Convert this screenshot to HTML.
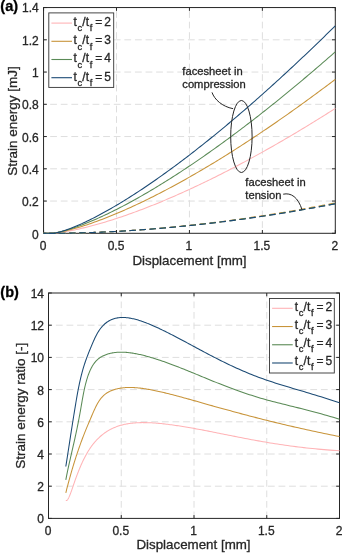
<!DOCTYPE html>
<html><head><meta charset="utf-8"><title>Strain energy</title>
<style>html,body{margin:0;padding:0;background:#fff}svg{display:block}</style></head>
<body>
<svg width="342" height="553" viewBox="0 0 342 553" font-family='"Liberation Sans", Arial, Helvetica, sans-serif'>
<rect width="342" height="553" fill="#fff"/>
<style>text{stroke:#262626;stroke-width:0.3px;paint-order:stroke}</style>
<path d="M116.49,7.55V233.30M189.43,7.55V233.30M262.36,7.55V233.30" fill="none" stroke="#dedede" stroke-width="1" stroke-dasharray="6.7 3.8" stroke-dashoffset="6.85"/>
<path d="M43.55,201.05H335.30M43.55,168.80H335.30M43.55,136.55H335.30M43.55,104.30H335.30M43.55,72.05H335.30M43.55,39.80H335.30" fill="none" stroke="#dedede" stroke-width="1" stroke-dasharray="6.8 3.8" stroke-dashoffset="4.0"/>
<path d="M43.55,233.30v-3.3M43.55,7.55v3.3M116.49,233.30v-3.3M116.49,7.55v3.3M189.43,233.30v-3.3M189.43,7.55v3.3M262.36,233.30v-3.3M262.36,7.55v3.3M335.30,233.30v-3.3M335.30,7.55v3.3M43.55,233.30h3.3M335.30,233.30h-3.3M43.55,201.05h3.3M335.30,201.05h-3.3M43.55,168.80h3.3M335.30,168.80h-3.3M43.55,136.55h3.3M335.30,136.55h-3.3M43.55,104.30h3.3M335.30,104.30h-3.3M43.55,72.05h3.3M335.30,72.05h-3.3M43.55,39.80h3.3M335.30,39.80h-3.3M43.55,7.55h3.3M335.30,7.55h-3.3" fill="none" stroke="#262626" stroke-width="1"/>
<rect x="43.55" y="7.55" width="291.75" height="225.75" fill="none" stroke="#262626" stroke-width="1"/>
<clipPath id="ca"><rect x="42.949999999999996" y="6.95" width="292.95" height="226.95"/></clipPath>
<g clip-path="url(#ca)" fill="none" stroke-width="1.05" stroke-linejoin="round">
<path d="M43.55,233.30 L45.37,233.30 L47.20,233.30 L49.02,233.30 L50.84,233.30 L52.67,233.21 L54.49,233.07 L56.31,232.89 L58.14,232.68 L59.96,232.45 L61.78,232.19 L63.61,231.92 L65.43,231.62 L67.25,231.31 L69.08,230.98 L70.90,230.64 L72.72,230.28 L74.55,229.91 L76.37,229.53 L78.20,229.13 L80.02,228.73 L81.84,228.31 L83.67,227.87 L85.49,227.43 L87.31,226.98 L89.14,226.52 L90.96,226.04 L92.78,225.56 L94.61,225.07 L96.43,224.56 L98.25,224.05 L100.08,223.53 L101.90,223.00 L103.72,222.46 L105.55,221.92 L107.37,221.36 L109.19,220.80 L111.02,220.23 L112.84,219.65 L114.66,219.06 L116.49,218.47 L118.31,217.87 L120.13,217.26 L121.96,216.64 L123.78,216.02 L125.60,215.39 L127.43,214.75 L129.25,214.10 L131.08,213.45 L132.90,212.79 L134.72,212.13 L136.55,211.46 L138.37,210.78 L140.19,210.09 L142.02,209.40 L143.84,208.70 L145.66,208.00 L147.49,207.29 L149.31,206.57 L151.13,205.85 L152.96,205.12 L154.78,204.39 L156.60,203.65 L158.43,202.91 L160.25,202.15 L162.07,201.40 L163.90,200.64 L165.72,199.87 L167.54,199.09 L169.37,198.31 L171.19,197.53 L173.01,196.74 L174.84,195.94 L176.66,195.14 L178.48,194.34 L180.31,193.52 L182.13,192.71 L183.95,191.89 L185.78,191.06 L187.60,190.23 L189.43,189.39 L191.25,188.55 L193.07,187.70 L194.90,186.85 L196.72,185.99 L198.54,185.13 L200.37,184.26 L202.19,183.39 L204.01,182.52 L205.84,181.64 L207.66,180.75 L209.48,179.86 L211.31,178.97 L213.13,178.07 L214.95,177.16 L216.78,176.25 L218.60,175.34 L220.42,174.42 L222.25,173.50 L224.07,172.57 L225.89,171.64 L227.72,170.71 L229.54,169.77 L231.36,168.82 L233.19,167.87 L235.01,166.92 L236.83,165.96 L238.66,165.00 L240.48,164.03 L242.30,163.06 L244.13,162.09 L245.95,161.11 L247.78,160.13 L249.60,159.14 L251.42,158.15 L253.25,157.16 L255.07,156.16 L256.89,155.15 L258.72,154.15 L260.54,153.14 L262.36,152.12 L264.19,151.10 L266.01,150.08 L267.83,149.05 L269.66,148.02 L271.48,146.99 L273.30,145.95 L275.13,144.90 L276.95,143.86 L278.77,142.81 L280.60,141.75 L282.42,140.70 L284.24,139.63 L286.07,138.57 L287.89,137.50 L289.71,136.43 L291.54,135.35 L293.36,134.27 L295.18,133.18 L297.01,132.10 L298.83,131.01 L300.65,129.91 L302.48,128.81 L304.30,127.71 L306.12,126.60 L307.95,125.49 L309.77,124.38 L311.60,123.26 L313.42,122.14 L315.24,121.02 L317.07,119.89 L318.89,118.76 L320.71,117.63 L322.54,116.49 L324.36,115.35 L326.18,114.20 L328.01,113.05 L329.83,111.90 L331.65,110.75 L333.48,109.59 L335.30,108.43" stroke="#ffb3b6"/>
<path d="M43.55,233.30 L45.37,233.30 L47.20,233.30 L49.02,233.30 L50.84,233.30 L52.67,233.30 L54.49,233.30 L56.31,233.29 L58.14,233.28 L59.96,233.26 L61.78,233.24 L63.61,233.22 L65.43,233.20 L67.25,233.17 L69.08,233.14 L70.90,233.11 L72.72,233.07 L74.55,233.03 L76.37,232.99 L78.20,232.94 L80.02,232.89 L81.84,232.84 L83.67,232.79 L85.49,232.73 L87.31,232.68 L89.14,232.61 L90.96,232.55 L92.78,232.48 L94.61,232.41 L96.43,232.34 L98.25,232.27 L100.08,232.19 L101.90,232.11 L103.72,232.03 L105.55,231.94 L107.37,231.86 L109.19,231.77 L111.02,231.68 L112.84,231.58 L114.66,231.48 L116.49,231.38 L118.31,231.28 L120.13,231.18 L121.96,231.07 L123.78,230.96 L125.60,230.85 L127.43,230.74 L129.25,230.62 L131.08,230.50 L132.90,230.38 L134.72,230.26 L136.55,230.13 L138.37,230.00 L140.19,229.87 L142.02,229.74 L143.84,229.61 L145.66,229.47 L147.49,229.33 L149.31,229.19 L151.13,229.04 L152.96,228.90 L154.78,228.75 L156.60,228.60 L158.43,228.45 L160.25,228.29 L162.07,228.13 L163.90,227.97 L165.72,227.81 L167.54,227.65 L169.37,227.48 L171.19,227.31 L173.01,227.14 L174.84,226.97 L176.66,226.79 L178.48,226.61 L180.31,226.43 L182.13,226.25 L183.95,226.07 L185.78,225.88 L187.60,225.69 L189.43,225.50 L191.25,225.31 L193.07,225.11 L194.90,224.91 L196.72,224.72 L198.54,224.51 L200.37,224.31 L202.19,224.10 L204.01,223.90 L205.84,223.69 L207.66,223.47 L209.48,223.26 L211.31,223.04 L213.13,222.82 L214.95,222.60 L216.78,222.38 L218.60,222.16 L220.42,221.93 L222.25,221.70 L224.07,221.47 L225.89,221.23 L227.72,221.00 L229.54,220.76 L231.36,220.52 L233.19,220.28 L235.01,220.04 L236.83,219.79 L238.66,219.54 L240.48,219.29 L242.30,219.04 L244.13,218.79 L245.95,218.53 L247.78,218.27 L249.60,218.01 L251.42,217.75 L253.25,217.48 L255.07,217.22 L256.89,216.95 L258.72,216.68 L260.54,216.40 L262.36,216.13 L264.19,215.85 L266.01,215.57 L267.83,215.29 L269.66,215.01 L271.48,214.73 L273.30,214.44 L275.13,214.15 L276.95,213.86 L278.77,213.57 L280.60,213.27 L282.42,212.97 L284.24,212.68 L286.07,212.37 L287.89,212.07 L289.71,211.77 L291.54,211.46 L293.36,211.15 L295.18,210.84 L297.01,210.53 L298.83,210.21 L300.65,209.90 L302.48,209.58 L304.30,209.26 L306.12,208.93 L307.95,208.61 L309.77,208.28 L311.60,207.95 L313.42,207.62 L315.24,207.29 L317.07,206.95 L318.89,206.62 L320.71,206.28 L322.54,205.94 L324.36,205.60 L326.18,205.25 L328.01,204.90 L329.83,204.56 L331.65,204.21 L333.48,203.85 L335.30,203.50" stroke="#ffb3b6" stroke-width="1.1" stroke-dasharray="6.45 3.6" stroke-dashoffset="4.5"/>
<path d="M43.55,233.30 L45.37,233.30 L47.20,233.30 L49.02,233.30 L50.84,233.30 L52.67,233.16 L54.49,232.94 L56.31,232.68 L58.14,232.37 L59.96,232.04 L61.78,231.68 L63.61,231.29 L65.43,230.88 L67.25,230.45 L69.08,230.00 L70.90,229.53 L72.72,229.05 L74.55,228.55 L76.37,228.03 L78.20,227.50 L80.02,226.95 L81.84,226.39 L83.67,225.81 L85.49,225.23 L87.31,224.63 L89.14,224.01 L90.96,223.39 L92.78,222.75 L94.61,222.11 L96.43,221.45 L98.25,220.78 L100.08,220.10 L101.90,219.42 L103.72,218.72 L105.55,218.01 L107.37,217.29 L109.19,216.56 L111.02,215.83 L112.84,215.08 L114.66,214.33 L116.49,213.57 L118.31,212.79 L120.13,212.01 L121.96,211.23 L123.78,210.43 L125.60,209.62 L127.43,208.81 L129.25,207.99 L131.08,207.16 L132.90,206.33 L134.72,205.49 L136.55,204.64 L138.37,203.78 L140.19,202.91 L142.02,202.04 L143.84,201.16 L145.66,200.28 L147.49,199.38 L149.31,198.48 L151.13,197.58 L152.96,196.66 L154.78,195.74 L156.60,194.82 L158.43,193.89 L160.25,192.95 L162.07,192.00 L163.90,191.05 L165.72,190.09 L167.54,189.13 L169.37,188.16 L171.19,187.18 L173.01,186.20 L174.84,185.21 L176.66,184.22 L178.48,183.22 L180.31,182.22 L182.13,181.20 L183.95,180.19 L185.78,179.17 L187.60,178.14 L189.43,177.10 L191.25,176.07 L193.07,175.02 L194.90,173.97 L196.72,172.92 L198.54,171.86 L200.37,170.79 L202.19,169.72 L204.01,168.64 L205.84,167.56 L207.66,166.48 L209.48,165.39 L211.31,164.29 L213.13,163.19 L214.95,162.08 L216.78,160.97 L218.60,159.85 L220.42,158.73 L222.25,157.61 L224.07,156.48 L225.89,155.34 L227.72,154.20 L229.54,153.05 L231.36,151.90 L233.19,150.75 L235.01,149.59 L236.83,148.43 L238.66,147.26 L240.48,146.09 L242.30,144.91 L244.13,143.73 L245.95,142.54 L247.78,141.35 L249.60,140.15 L251.42,138.95 L253.25,137.75 L255.07,136.54 L256.89,135.33 L258.72,134.11 L260.54,132.89 L262.36,131.66 L264.19,130.43 L266.01,129.20 L267.83,127.96 L269.66,126.72 L271.48,125.47 L273.30,124.22 L275.13,122.96 L276.95,121.70 L278.77,120.44 L280.60,119.17 L282.42,117.90 L284.24,116.62 L286.07,115.34 L287.89,114.06 L289.71,112.77 L291.54,111.48 L293.36,110.19 L295.18,108.89 L297.01,107.58 L298.83,106.28 L300.65,104.96 L302.48,103.65 L304.30,102.33 L306.12,101.01 L307.95,99.68 L309.77,98.35 L311.60,97.02 L313.42,95.68 L315.24,94.34 L317.07,92.99 L318.89,91.64 L320.71,90.29 L322.54,88.93 L324.36,87.57 L326.18,86.21 L328.01,84.84 L329.83,83.47 L331.65,82.10 L333.48,80.72 L335.30,79.34" stroke="#c8943a"/>
<path d="M43.55,233.30 L45.37,233.30 L47.20,233.30 L49.02,233.30 L50.84,233.30 L52.67,233.30 L54.49,233.30 L56.31,233.29 L58.14,233.28 L59.96,233.26 L61.78,233.24 L63.61,233.22 L65.43,233.20 L67.25,233.17 L69.08,233.14 L70.90,233.10 L72.72,233.06 L74.55,233.02 L76.37,232.98 L78.20,232.94 L80.02,232.89 L81.84,232.83 L83.67,232.78 L85.49,232.72 L87.31,232.66 L89.14,232.60 L90.96,232.53 L92.78,232.47 L94.61,232.40 L96.43,232.32 L98.25,232.25 L100.08,232.17 L101.90,232.09 L103.72,232.00 L105.55,231.92 L107.37,231.83 L109.19,231.73 L111.02,231.64 L112.84,231.54 L114.66,231.44 L116.49,231.34 L118.31,231.24 L120.13,231.13 L121.96,231.02 L123.78,230.91 L125.60,230.80 L127.43,230.68 L129.25,230.56 L131.08,230.44 L132.90,230.32 L134.72,230.19 L136.55,230.06 L138.37,229.93 L140.19,229.80 L142.02,229.66 L143.84,229.53 L145.66,229.39 L147.49,229.24 L149.31,229.10 L151.13,228.95 L152.96,228.80 L154.78,228.65 L156.60,228.50 L158.43,228.34 L160.25,228.18 L162.07,228.02 L163.90,227.86 L165.72,227.69 L167.54,227.52 L169.37,227.35 L171.19,227.18 L173.01,227.00 L174.84,226.83 L176.66,226.65 L178.48,226.47 L180.31,226.28 L182.13,226.10 L183.95,225.91 L185.78,225.72 L187.60,225.53 L189.43,225.33 L191.25,225.13 L193.07,224.93 L194.90,224.73 L196.72,224.53 L198.54,224.32 L200.37,224.11 L202.19,223.90 L204.01,223.69 L205.84,223.48 L207.66,223.26 L209.48,223.04 L211.31,222.82 L213.13,222.60 L214.95,222.37 L216.78,222.14 L218.60,221.91 L220.42,221.68 L222.25,221.45 L224.07,221.21 L225.89,220.97 L227.72,220.73 L229.54,220.49 L231.36,220.24 L233.19,220.00 L235.01,219.75 L236.83,219.50 L238.66,219.24 L240.48,218.99 L242.30,218.73 L244.13,218.47 L245.95,218.21 L247.78,217.94 L249.60,217.68 L251.42,217.41 L253.25,217.14 L255.07,216.87 L256.89,216.59 L258.72,216.32 L260.54,216.04 L262.36,215.76 L264.19,215.47 L266.01,215.19 L267.83,214.90 L269.66,214.61 L271.48,214.32 L273.30,214.03 L275.13,213.73 L276.95,213.44 L278.77,213.14 L280.60,212.84 L282.42,212.53 L284.24,212.23 L286.07,211.92 L287.89,211.61 L289.71,211.30 L291.54,210.98 L293.36,210.67 L295.18,210.35 L297.01,210.03 L298.83,209.71 L300.65,209.39 L302.48,209.06 L304.30,208.73 L306.12,208.40 L307.95,208.07 L309.77,207.74 L311.60,207.40 L313.42,207.06 L315.24,206.72 L317.07,206.38 L318.89,206.04 L320.71,205.69 L322.54,205.34 L324.36,204.99 L326.18,204.64 L328.01,204.29 L329.83,203.93 L331.65,203.57 L333.48,203.21 L335.30,202.85" stroke="#c8943a" stroke-width="1.1" stroke-dasharray="6.45 3.6" stroke-dashoffset="4.5"/>
<path d="M43.55,233.30 L45.37,233.30 L47.20,233.30 L49.02,233.30 L50.84,233.30 L52.67,233.21 L54.49,232.97 L56.31,232.65 L58.14,232.28 L59.96,231.87 L61.78,231.42 L63.61,230.95 L65.43,230.44 L67.25,229.91 L69.08,229.36 L70.90,228.79 L72.72,228.19 L74.55,227.57 L76.37,226.94 L78.20,226.29 L80.02,225.62 L81.84,224.94 L83.67,224.23 L85.49,223.52 L87.31,222.79 L89.14,222.04 L90.96,221.29 L92.78,220.51 L94.61,219.73 L96.43,218.93 L98.25,218.12 L100.08,217.30 L101.90,216.47 L103.72,215.63 L105.55,214.77 L107.37,213.91 L109.19,213.03 L111.02,212.14 L112.84,211.24 L114.66,210.34 L116.49,209.42 L118.31,208.49 L120.13,207.55 L121.96,206.61 L123.78,205.65 L125.60,204.69 L127.43,203.71 L129.25,202.73 L131.08,201.74 L132.90,200.74 L134.72,199.73 L136.55,198.72 L138.37,197.69 L140.19,196.66 L142.02,195.62 L143.84,194.57 L145.66,193.52 L147.49,192.45 L149.31,191.38 L151.13,190.30 L152.96,189.21 L154.78,188.12 L156.60,187.02 L158.43,185.91 L160.25,184.80 L162.07,183.67 L163.90,182.54 L165.72,181.41 L167.54,180.26 L169.37,179.11 L171.19,177.96 L173.01,176.79 L174.84,175.62 L176.66,174.45 L178.48,173.27 L180.31,172.08 L182.13,170.88 L183.95,169.68 L185.78,168.47 L187.60,167.26 L189.43,166.04 L191.25,164.81 L193.07,163.58 L194.90,162.34 L196.72,161.09 L198.54,159.84 L200.37,158.59 L202.19,157.33 L204.01,156.06 L205.84,154.79 L207.66,153.51 L209.48,152.22 L211.31,150.93 L213.13,149.64 L214.95,148.34 L216.78,147.03 L218.60,145.72 L220.42,144.40 L222.25,143.08 L224.07,141.75 L225.89,140.42 L227.72,139.08 L229.54,137.73 L231.36,136.39 L233.19,135.03 L235.01,133.67 L236.83,132.31 L238.66,130.94 L240.48,129.56 L242.30,128.19 L244.13,126.80 L245.95,125.41 L247.78,124.02 L249.60,122.62 L251.42,121.22 L253.25,119.81 L255.07,118.39 L256.89,116.98 L258.72,115.55 L260.54,114.13 L262.36,112.69 L264.19,111.26 L266.01,109.81 L267.83,108.37 L269.66,106.92 L271.48,105.46 L273.30,104.00 L275.13,102.54 L276.95,101.07 L278.77,99.60 L280.60,98.12 L282.42,96.64 L284.24,95.15 L286.07,93.66 L287.89,92.16 L289.71,90.67 L291.54,89.16 L293.36,87.65 L295.18,86.14 L297.01,84.62 L298.83,83.10 L300.65,81.58 L302.48,80.05 L304.30,78.52 L306.12,76.98 L307.95,75.44 L309.77,73.89 L311.60,72.34 L313.42,70.79 L315.24,69.23 L317.07,67.67 L318.89,66.10 L320.71,64.53 L322.54,62.96 L324.36,61.38 L326.18,59.80 L328.01,58.21 L329.83,56.62 L331.65,55.03 L333.48,53.43 L335.30,51.83" stroke="#5a8a56"/>
<path d="M43.55,233.30 L45.37,233.30 L47.20,233.30 L49.02,233.30 L50.84,233.30 L52.67,233.30 L54.49,233.30 L56.31,233.29 L58.14,233.28 L59.96,233.26 L61.78,233.24 L63.61,233.22 L65.43,233.20 L67.25,233.17 L69.08,233.14 L70.90,233.11 L72.72,233.07 L74.55,233.03 L76.37,232.99 L78.20,232.94 L80.02,232.90 L81.84,232.85 L83.67,232.79 L85.49,232.74 L87.31,232.68 L89.14,232.62 L90.96,232.55 L92.78,232.49 L94.61,232.42 L96.43,232.35 L98.25,232.27 L100.08,232.20 L101.90,232.12 L103.72,232.04 L105.55,231.95 L107.37,231.86 L109.19,231.78 L111.02,231.68 L112.84,231.59 L114.66,231.49 L116.49,231.39 L118.31,231.29 L120.13,231.19 L121.96,231.08 L123.78,230.97 L125.60,230.86 L127.43,230.75 L129.25,230.63 L131.08,230.52 L132.90,230.40 L134.72,230.27 L136.55,230.15 L138.37,230.02 L140.19,229.89 L142.02,229.76 L143.84,229.63 L145.66,229.49 L147.49,229.35 L149.31,229.21 L151.13,229.07 L152.96,228.92 L154.78,228.77 L156.60,228.62 L158.43,228.47 L160.25,228.31 L162.07,228.16 L163.90,228.00 L165.72,227.84 L167.54,227.67 L169.37,227.51 L171.19,227.34 L173.01,227.17 L174.84,227.00 L176.66,226.82 L178.48,226.65 L180.31,226.47 L182.13,226.29 L183.95,226.10 L185.78,225.92 L187.60,225.73 L189.43,225.54 L191.25,225.35 L193.07,225.15 L194.90,224.96 L196.72,224.76 L198.54,224.56 L200.37,224.35 L202.19,224.15 L204.01,223.94 L205.84,223.73 L207.66,223.52 L209.48,223.31 L211.31,223.09 L213.13,222.88 L214.95,222.66 L216.78,222.43 L218.60,222.21 L220.42,221.98 L222.25,221.76 L224.07,221.53 L225.89,221.29 L227.72,221.06 L229.54,220.82 L231.36,220.58 L233.19,220.34 L235.01,220.10 L236.83,219.86 L238.66,219.61 L240.48,219.36 L242.30,219.11 L244.13,218.86 L245.95,218.60 L247.78,218.35 L249.60,218.09 L251.42,217.82 L253.25,217.56 L255.07,217.30 L256.89,217.03 L258.72,216.76 L260.54,216.49 L262.36,216.22 L264.19,215.94 L266.01,215.66 L267.83,215.38 L269.66,215.10 L271.48,214.82 L273.30,214.53 L275.13,214.25 L276.95,213.96 L278.77,213.66 L280.60,213.37 L282.42,213.08 L284.24,212.78 L286.07,212.48 L287.89,212.18 L289.71,211.87 L291.54,211.57 L293.36,211.26 L295.18,210.95 L297.01,210.64 L298.83,210.33 L300.65,210.01 L302.48,209.69 L304.30,209.37 L306.12,209.05 L307.95,208.73 L309.77,208.40 L311.60,208.08 L313.42,207.75 L315.24,207.42 L317.07,207.08 L318.89,206.75 L320.71,206.41 L322.54,206.07 L324.36,205.73 L326.18,205.39 L328.01,205.05 L329.83,204.70 L331.65,204.35 L333.48,204.00 L335.30,203.65" stroke="#5a8a56" stroke-width="1.1" stroke-dasharray="6.45 3.6" stroke-dashoffset="4.5"/>
<path d="M43.55,233.30 L45.37,233.30 L47.20,233.30 L49.02,233.30 L50.84,233.30 L52.67,233.30 L54.49,233.14 L56.31,232.80 L58.14,232.38 L59.96,231.89 L61.78,231.37 L63.61,230.80 L65.43,230.20 L67.25,229.56 L69.08,228.90 L70.90,228.21 L72.72,227.50 L74.55,226.76 L76.37,226.00 L78.20,225.22 L80.02,224.43 L81.84,223.61 L83.67,222.77 L85.49,221.92 L87.31,221.05 L89.14,220.17 L90.96,219.27 L92.78,218.36 L94.61,217.43 L96.43,216.48 L98.25,215.53 L100.08,214.56 L101.90,213.57 L103.72,212.58 L105.55,211.57 L107.37,210.55 L109.19,209.52 L111.02,208.48 L112.84,207.42 L114.66,206.36 L116.49,205.28 L118.31,204.20 L120.13,203.10 L121.96,201.99 L123.78,200.87 L125.60,199.75 L127.43,198.61 L129.25,197.47 L131.08,196.31 L132.90,195.14 L134.72,193.97 L136.55,192.79 L138.37,191.60 L140.19,190.40 L142.02,189.19 L143.84,187.97 L145.66,186.74 L147.49,185.51 L149.31,184.27 L151.13,183.02 L152.96,181.76 L154.78,180.49 L156.60,179.22 L158.43,177.94 L160.25,176.65 L162.07,175.35 L163.90,174.05 L165.72,172.74 L167.54,171.42 L169.37,170.09 L171.19,168.76 L173.01,167.42 L174.84,166.07 L176.66,164.72 L178.48,163.36 L180.31,161.99 L182.13,160.62 L183.95,159.24 L185.78,157.85 L187.60,156.46 L189.43,155.06 L191.25,153.65 L193.07,152.24 L194.90,150.82 L196.72,149.40 L198.54,147.96 L200.37,146.53 L202.19,145.08 L204.01,143.63 L205.84,142.18 L207.66,140.72 L209.48,139.25 L211.31,137.78 L213.13,136.30 L214.95,134.81 L216.78,133.32 L218.60,131.83 L220.42,130.33 L222.25,128.82 L224.07,127.31 L225.89,125.79 L227.72,124.26 L229.54,122.74 L231.36,121.20 L233.19,119.66 L235.01,118.12 L236.83,116.57 L238.66,115.01 L240.48,113.45 L242.30,111.88 L244.13,110.31 L245.95,108.74 L247.78,107.15 L249.60,105.57 L251.42,103.98 L253.25,102.38 L255.07,100.78 L256.89,99.17 L258.72,97.56 L260.54,95.95 L262.36,94.32 L264.19,92.70 L266.01,91.07 L267.83,89.43 L269.66,87.79 L271.48,86.15 L273.30,84.50 L275.13,82.84 L276.95,81.19 L278.77,79.52 L280.60,77.86 L282.42,76.18 L284.24,74.51 L286.07,72.82 L287.89,71.14 L289.71,69.45 L291.54,67.75 L293.36,66.05 L295.18,64.35 L297.01,62.64 L298.83,60.93 L300.65,59.21 L302.48,57.49 L304.30,55.77 L306.12,54.04 L307.95,52.31 L309.77,50.57 L311.60,48.83 L313.42,47.08 L315.24,45.33 L317.07,43.57 L318.89,41.82 L320.71,40.05 L322.54,38.29 L324.36,36.51 L326.18,34.74 L328.01,32.96 L329.83,31.18 L331.65,29.39 L333.48,27.60 L335.30,25.80" stroke="#1b4a74"/>
<path d="M43.55,233.30 L45.37,233.30 L47.20,233.30 L49.02,233.30 L50.84,233.30 L52.67,233.30 L54.49,233.30 L56.31,233.29 L58.14,233.28 L59.96,233.26 L61.78,233.24 L63.61,233.22 L65.43,233.20 L67.25,233.17 L69.08,233.14 L70.90,233.11 L72.72,233.07 L74.55,233.03 L76.37,232.99 L78.20,232.95 L80.02,232.90 L81.84,232.85 L83.67,232.80 L85.49,232.74 L87.31,232.68 L89.14,232.62 L90.96,232.56 L92.78,232.49 L94.61,232.42 L96.43,232.35 L98.25,232.28 L100.08,232.20 L101.90,232.12 L103.72,232.04 L105.55,231.96 L107.37,231.87 L109.19,231.78 L111.02,231.69 L112.84,231.60 L114.66,231.50 L116.49,231.40 L118.31,231.30 L120.13,231.20 L121.96,231.09 L123.78,230.99 L125.60,230.88 L127.43,230.76 L129.25,230.65 L131.08,230.53 L132.90,230.41 L134.72,230.29 L136.55,230.16 L138.37,230.04 L140.19,229.91 L142.02,229.78 L143.84,229.64 L145.66,229.51 L147.49,229.37 L149.31,229.23 L151.13,229.09 L152.96,228.94 L154.78,228.79 L156.60,228.64 L158.43,228.49 L160.25,228.34 L162.07,228.18 L163.90,228.02 L165.72,227.86 L167.54,227.70 L169.37,227.54 L171.19,227.37 L173.01,227.20 L174.84,227.03 L176.66,226.85 L178.48,226.68 L180.31,226.50 L182.13,226.32 L183.95,226.14 L185.78,225.95 L187.60,225.77 L189.43,225.58 L191.25,225.39 L193.07,225.19 L194.90,225.00 L196.72,224.80 L198.54,224.60 L200.37,224.40 L202.19,224.20 L204.01,223.99 L205.84,223.78 L207.66,223.57 L209.48,223.36 L211.31,223.14 L213.13,222.93 L214.95,222.71 L216.78,222.49 L218.60,222.27 L220.42,222.04 L222.25,221.81 L224.07,221.58 L225.89,221.35 L227.72,221.12 L229.54,220.89 L231.36,220.65 L233.19,220.41 L235.01,220.17 L236.83,219.92 L238.66,219.68 L240.48,219.43 L242.30,219.18 L244.13,218.93 L245.95,218.68 L247.78,218.42 L249.60,218.16 L251.42,217.90 L253.25,217.64 L255.07,217.38 L256.89,217.11 L258.72,216.84 L260.54,216.57 L262.36,216.30 L264.19,216.03 L266.01,215.75 L267.83,215.47 L269.66,215.19 L271.48,214.91 L273.30,214.63 L275.13,214.34 L276.95,214.05 L278.77,213.76 L280.60,213.47 L282.42,213.18 L284.24,212.88 L286.07,212.58 L287.89,212.28 L289.71,211.98 L291.54,211.68 L293.36,211.37 L295.18,211.06 L297.01,210.75 L298.83,210.44 L300.65,210.13 L302.48,209.81 L304.30,209.49 L306.12,209.17 L307.95,208.85 L309.77,208.53 L311.60,208.20 L313.42,207.88 L315.24,207.55 L317.07,207.21 L318.89,206.88 L320.71,206.55 L322.54,206.21 L324.36,205.87 L326.18,205.53 L328.01,205.19 L329.83,204.84 L331.65,204.49 L333.48,204.14 L335.30,203.79" stroke="#1b4a74" stroke-width="1.1" stroke-dasharray="6.45 3.6" stroke-dashoffset="4.5"/>
</g>
<text x="43.05" y="250.0" text-anchor="middle" font-size="12" fill="#262626">0</text>
<text x="115.99" y="250.0" text-anchor="middle" font-size="12" fill="#262626">0.5</text>
<text x="188.93" y="250.0" text-anchor="middle" font-size="12" fill="#262626">1</text>
<text x="261.86" y="250.0" text-anchor="middle" font-size="12" fill="#262626">1.5</text>
<text x="334.80" y="250.0" text-anchor="middle" font-size="12" fill="#262626">2</text>
<text x="38.7" y="238.60" text-anchor="end" font-size="12" fill="#262626">0</text>
<text x="38.7" y="206.26" text-anchor="end" font-size="12" fill="#262626">0.2</text>
<text x="38.7" y="173.93" text-anchor="end" font-size="12" fill="#262626">0.4</text>
<text x="38.7" y="141.59" text-anchor="end" font-size="12" fill="#262626">0.6</text>
<text x="38.7" y="109.26" text-anchor="end" font-size="12" fill="#262626">0.8</text>
<text x="38.7" y="76.92" text-anchor="end" font-size="12" fill="#262626">1</text>
<text x="38.7" y="44.59" text-anchor="end" font-size="12" fill="#262626">1.2</text>
<text x="38.7" y="12.25" text-anchor="end" font-size="12" fill="#262626">1.4</text>
<ellipse cx="241.4" cy="136.5" rx="10.7" ry="36" fill="none" stroke="#262626" stroke-width="1"/>
<path d="M212,92.4 C214.5,99.5 222,106.5 233.1,108.7" fill="none" stroke="#262626" stroke-width="1"/>
<path d="M283.2,194.2 C291,192.5 298,197 302.1,209.9" fill="none" stroke="#262626" stroke-width="1"/>
<text font-size="11.2" fill="#262626"><tspan x="182.3" y="74.9">facesheet in</tspan><tspan x="182.3" y="88.1">compression</tspan></text>
<text font-size="11.2" fill="#262626"><tspan x="245.3" y="186.0">facesheet in</tspan><tspan x="245.3" y="199.2">tension</tspan></text>
<rect x="48.8" y="12.9" width="64.9" height="74.5" fill="#fff" stroke="#333" stroke-width="0.9"/>
<path d="M51.40,23.10h20.6" stroke="#ffb3b6" stroke-width="1.1" fill="none"/>
<text font-size="12" fill="#262626" y="26.00"><tspan x="73.40">t</tspan><tspan x="77.40" y="31.40" font-size="9.3">c</tspan><tspan x="82.30" y="26.00">/</tspan><tspan x="85.80">t</tspan><tspan x="89.70" y="31.40" font-size="9.3">f</tspan><tspan x="95.20" y="26.00">=</tspan><tspan x="104.30">2</tspan></text>
<path d="M51.40,41.30h20.6" stroke="#c8943a" stroke-width="1.1" fill="none"/>
<text font-size="12" fill="#262626" y="44.20"><tspan x="73.40">t</tspan><tspan x="77.40" y="49.60" font-size="9.3">c</tspan><tspan x="82.30" y="44.20">/</tspan><tspan x="85.80">t</tspan><tspan x="89.70" y="49.60" font-size="9.3">f</tspan><tspan x="95.20" y="44.20">=</tspan><tspan x="104.30">3</tspan></text>
<path d="M51.40,59.50h20.6" stroke="#5a8a56" stroke-width="1.1" fill="none"/>
<text font-size="12" fill="#262626" y="62.40"><tspan x="73.40">t</tspan><tspan x="77.40" y="67.80" font-size="9.3">c</tspan><tspan x="82.30" y="62.40">/</tspan><tspan x="85.80">t</tspan><tspan x="89.70" y="67.80" font-size="9.3">f</tspan><tspan x="95.20" y="62.40">=</tspan><tspan x="104.30">4</tspan></text>
<path d="M51.40,77.70h20.6" stroke="#1b4a74" stroke-width="1.1" fill="none"/>
<text font-size="12" fill="#262626" y="80.60"><tspan x="73.40">t</tspan><tspan x="77.40" y="86.00" font-size="9.3">c</tspan><tspan x="82.30" y="80.60">/</tspan><tspan x="85.80">t</tspan><tspan x="89.70" y="86.00" font-size="9.3">f</tspan><tspan x="95.20" y="80.60">=</tspan><tspan x="104.30">5</tspan></text>
<text x="189.5" y="264.8" text-anchor="middle" font-size="13.35" fill="#262626">Displacement [mm]</text>
<text transform="translate(16.6,121) rotate(-90)" text-anchor="middle" font-size="13.5" fill="#262626">Strain energy [mJ]</text>
<text x="0.3" y="11.2" font-size="14.5" font-weight="bold" fill="#000" style="stroke:#000">(a)</text>
<path d="M121.25,293.00V518.40M194.00,293.00V518.40M266.75,293.00V518.40" fill="none" stroke="#dedede" stroke-width="1" stroke-dasharray="6.7 3.8" stroke-dashoffset="2.0"/>
<path d="M48.50,486.20H339.50M48.50,454.00H339.50M48.50,421.80H339.50M48.50,389.60H339.50M48.50,357.40H339.50M48.50,325.20H339.50" fill="none" stroke="#dedede" stroke-width="1" stroke-dasharray="6.8 3.8" stroke-dashoffset="3.2"/>
<path d="M48.50,518.40v-3.3M48.50,293.00v3.3M121.25,518.40v-3.3M121.25,293.00v3.3M194.00,518.40v-3.3M194.00,293.00v3.3M266.75,518.40v-3.3M266.75,293.00v3.3M339.50,518.40v-3.3M339.50,293.00v3.3M48.50,518.40h3.3M339.50,518.40h-3.3M48.50,486.20h3.3M339.50,486.20h-3.3M48.50,454.00h3.3M339.50,454.00h-3.3M48.50,421.80h3.3M339.50,421.80h-3.3M48.50,389.60h3.3M339.50,389.60h-3.3M48.50,357.40h3.3M339.50,357.40h-3.3M48.50,325.20h3.3M339.50,325.20h-3.3M48.50,293.00h3.3M339.50,293.00h-3.3" fill="none" stroke="#262626" stroke-width="1"/>
<rect x="48.5" y="293.0" width="291.0" height="225.39999999999998" fill="none" stroke="#262626" stroke-width="1"/>
<clipPath id="cb"><rect x="47.9" y="292.4" width="292.2" height="226.59999999999997"/></clipPath>
<g clip-path="url(#cb)" fill="none" stroke-width="1.05" stroke-linejoin="round">
<path d="M65.81,500.47 L66.00,500.54 L66.20,500.57 L66.39,500.55 L66.59,500.49 L66.78,500.39 L66.98,500.25 L67.19,500.07 L67.39,499.86 L67.60,499.60 L67.81,499.31 L68.02,498.99 L68.23,498.63 L68.45,498.24 L68.67,497.83 L68.89,497.38 L69.11,496.90 L69.34,496.39 L69.57,495.86 L69.80,495.30 L70.03,494.72 L70.27,494.12 L70.50,493.50 L70.75,492.85 L70.99,492.19 L71.24,491.50 L71.48,490.80 L71.74,490.09 L71.99,489.36 L72.25,488.61 L72.51,487.86 L72.77,487.09 L73.04,486.31 L73.31,485.52 L73.58,484.73 L73.85,483.93 L74.13,483.12 L74.41,482.31 L74.69,481.50 L74.98,480.68 L75.27,479.86 L75.56,479.04 L75.86,478.22 L76.16,477.40 L76.46,476.57 L76.77,475.75 L77.08,474.92 L77.39,474.09 L77.71,473.26 L78.03,472.44 L78.35,471.61 L78.68,470.79 L79.01,469.96 L79.34,469.14 L79.68,468.32 L80.02,467.50 L80.37,466.69 L80.72,465.87 L81.07,465.06 L81.43,464.25 L81.79,463.45 L82.15,462.65 L82.52,461.85 L82.90,461.06 L83.27,460.27 L83.65,459.49 L84.04,458.72 L84.43,457.95 L84.82,457.18 L85.22,456.42 L85.62,455.67 L86.03,454.92 L86.44,454.18 L86.85,453.45 L87.27,452.73 L87.70,452.01 L88.13,451.30 L88.56,450.60 L89.00,449.91 L89.45,449.23 L89.89,448.55 L90.35,447.88 L90.81,447.22 L91.27,446.57 L91.74,445.92 L92.21,445.29 L92.69,444.66 L93.17,444.04 L93.66,443.43 L94.16,442.83 L94.66,442.23 L95.16,441.64 L95.68,441.07 L96.19,440.50 L96.71,439.94 L97.24,439.38 L97.78,438.84 L98.32,438.30 L98.86,437.77 L99.41,437.26 L99.97,436.74 L100.54,436.24 L101.11,435.75 L101.68,435.27 L102.26,434.79 L102.85,434.32 L103.45,433.86 L104.05,433.42 L104.66,432.97 L105.27,432.54 L105.90,432.12 L106.53,431.71 L107.16,431.30 L107.80,430.91 L108.45,430.52 L109.11,430.14 L109.77,429.77 L110.45,429.41 L111.12,429.06 L111.81,428.72 L112.50,428.39 L113.20,428.07 L113.91,427.75 L114.63,427.45 L115.35,427.15 L116.09,426.87 L116.83,426.59 L117.58,426.33 L118.33,426.07 L119.10,425.82 L119.87,425.58 L120.65,425.35 L121.44,425.13 L122.24,424.92 L123.05,424.72 L123.87,424.53 L124.69,424.35 L125.53,424.18 L126.37,424.02 L127.22,423.86 L128.09,423.72 L128.96,423.58 L129.84,423.45 L130.73,423.34 L131.63,423.23 L132.54,423.13 L133.46,423.04 L134.39,422.95 L135.33,422.88 L136.28,422.81 L137.25,422.76 L138.22,422.71 L139.20,422.67 L140.19,422.64 L141.20,422.62 L142.21,422.60 L143.24,422.60 L144.28,422.60 L145.33,422.61 L146.39,422.63 L147.46,422.66 L148.55,422.69 L149.64,422.73 L150.75,422.79 L151.87,422.84 L153.00,422.91 L154.15,422.99 L155.30,423.07 L156.47,423.16 L157.66,423.26 L158.85,423.36 L160.06,423.48 L161.28,423.60 L162.52,423.72 L163.77,423.86 L165.03,424.00 L166.31,424.15 L167.60,424.31 L168.90,424.47 L170.22,424.65 L171.55,424.83 L172.90,425.01 L174.27,425.20 L175.64,425.40 L177.04,425.61 L178.44,425.83 L179.87,426.05 L181.31,426.27 L182.76,426.51 L184.23,426.75 L185.72,427.00 L187.22,427.25 L188.74,427.51 L190.28,427.78 L191.83,428.05 L193.40,428.33 L194.99,428.62 L196.59,428.91 L198.22,429.21 L199.86,429.52 L201.51,429.83 L203.19,430.14 L204.88,430.47 L206.60,430.80 L208.33,431.13 L210.08,431.47 L211.85,431.82 L213.64,432.17 L215.45,432.53 L217.28,432.90 L219.13,433.27 L220.99,433.64 L222.88,434.02 L224.79,434.41 L226.73,434.79 L228.68,435.19 L230.65,435.58 L232.65,435.98 L234.66,436.38 L236.70,436.79 L238.77,437.20 L240.85,437.60 L242.96,438.01 L245.09,438.42 L247.24,438.83 L249.42,439.25 L251.62,439.66 L253.84,440.07 L256.09,440.48 L258.37,440.89 L260.67,441.29 L262.99,441.70 L265.34,442.10 L267.72,442.50 L270.12,442.90 L272.54,443.29 L275.00,443.68 L277.48,444.07 L279.99,444.45 L282.52,444.82 L285.09,445.20 L287.68,445.56 L290.30,445.92 L292.95,446.27 L295.63,446.62 L298.33,446.96 L301.07,447.29 L303.84,447.62 L306.63,447.93 L309.46,448.24 L312.32,448.54 L315.21,448.83 L318.13,449.11 L321.09,449.38 L324.07,449.64 L327.09,449.89 L330.14,450.13 L333.23,450.36 L336.35,450.57 L339.50,450.78" stroke="#ffb3b6"/>
<path d="M65.81,492.77 L66.00,492.02 L66.20,491.27 L66.39,490.51 L66.59,489.74 L66.78,488.97 L66.98,488.20 L67.19,487.42 L67.39,486.63 L67.60,485.84 L67.81,485.05 L68.02,484.25 L68.23,483.45 L68.45,482.64 L68.67,481.83 L68.89,481.01 L69.11,480.19 L69.34,479.36 L69.57,478.53 L69.80,477.69 L70.03,476.85 L70.27,476.01 L70.50,475.16 L70.75,474.31 L70.99,473.45 L71.24,472.59 L71.48,471.73 L71.74,470.86 L71.99,469.98 L72.25,469.11 L72.51,468.23 L72.77,467.34 L73.04,466.45 L73.31,465.56 L73.58,464.67 L73.85,463.77 L74.13,462.86 L74.41,461.96 L74.69,461.05 L74.98,460.14 L75.27,459.22 L75.56,458.30 L75.86,457.38 L76.16,456.45 L76.46,455.52 L76.77,454.59 L77.08,453.65 L77.39,452.71 L77.71,451.77 L78.03,450.82 L78.35,449.88 L78.68,448.93 L79.01,447.97 L79.34,447.02 L79.68,446.06 L80.02,445.09 L80.37,444.13 L80.72,443.16 L81.07,442.19 L81.43,441.22 L81.79,440.25 L82.15,439.27 L82.52,438.29 L82.90,437.31 L83.27,436.33 L83.65,435.34 L84.04,434.35 L84.43,433.36 L84.82,432.37 L85.22,431.38 L85.62,430.38 L86.03,429.38 L86.44,428.38 L86.85,427.38 L87.27,426.38 L87.70,425.37 L88.13,424.36 L88.56,423.34 L89.00,422.31 L89.45,421.26 L89.89,420.20 L90.35,419.13 L90.81,418.04 L91.27,416.93 L91.74,415.82 L92.21,414.71 L92.69,413.59 L93.17,412.48 L93.66,411.37 L94.16,410.27 L94.66,409.18 L95.16,408.11 L95.68,407.06 L96.19,406.03 L96.71,405.02 L97.24,404.04 L97.78,403.09 L98.32,402.18 L98.86,401.31 L99.41,400.48 L99.97,399.68 L100.54,398.93 L101.11,398.21 L101.68,397.53 L102.26,396.88 L102.85,396.27 L103.45,395.69 L104.05,395.14 L104.66,394.62 L105.27,394.13 L105.90,393.66 L106.53,393.23 L107.16,392.81 L107.80,392.42 L108.45,392.05 L109.11,391.70 L109.77,391.37 L110.45,391.06 L111.12,390.76 L111.81,390.48 L112.50,390.22 L113.20,389.97 L113.91,389.73 L114.63,389.50 L115.35,389.29 L116.09,389.08 L116.83,388.89 L117.58,388.72 L118.33,388.55 L119.10,388.40 L119.87,388.26 L120.65,388.13 L121.44,388.01 L122.24,387.91 L123.05,387.81 L123.87,387.73 L124.69,387.66 L125.53,387.60 L126.37,387.56 L127.22,387.52 L128.09,387.49 L128.96,387.48 L129.84,387.48 L130.73,387.48 L131.63,387.50 L132.54,387.53 L133.46,387.57 L134.39,387.62 L135.33,387.68 L136.28,387.75 L137.25,387.83 L138.22,387.92 L139.20,388.02 L140.19,388.13 L141.20,388.25 L142.21,388.38 L143.24,388.52 L144.28,388.67 L145.33,388.83 L146.39,389.00 L147.46,389.17 L148.55,389.36 L149.64,389.56 L150.75,389.76 L151.87,389.97 L153.00,390.19 L154.15,390.42 L155.30,390.66 L156.47,390.91 L157.66,391.17 L158.85,391.43 L160.06,391.70 L161.28,391.98 L162.52,392.27 L163.77,392.57 L165.03,392.87 L166.31,393.18 L167.60,393.50 L168.90,393.83 L170.22,394.16 L171.55,394.50 L172.90,394.85 L174.27,395.21 L175.64,395.57 L177.04,395.94 L178.44,396.31 L179.87,396.70 L181.31,397.09 L182.76,397.48 L184.23,397.89 L185.72,398.30 L187.22,398.71 L188.74,399.13 L190.28,399.56 L191.83,399.99 L193.40,400.43 L194.99,400.88 L196.59,401.33 L198.22,401.79 L199.86,402.25 L201.51,402.72 L203.19,403.19 L204.88,403.67 L206.60,404.15 L208.33,404.64 L210.08,405.14 L211.85,405.63 L213.64,406.14 L215.45,406.64 L217.28,407.16 L219.13,407.67 L220.99,408.19 L222.88,408.72 L224.79,409.25 L226.73,409.78 L228.68,410.32 L230.65,410.86 L232.65,411.41 L234.66,411.96 L236.70,412.51 L238.77,413.07 L240.85,413.63 L242.96,414.19 L245.09,414.76 L247.24,415.33 L249.42,415.90 L251.62,416.47 L253.84,417.05 L256.09,417.63 L258.37,418.22 L260.67,418.80 L262.99,419.39 L265.34,419.98 L267.72,420.58 L270.12,421.17 L272.54,421.77 L275.00,422.37 L277.48,422.97 L279.99,423.58 L282.52,424.18 L285.09,424.79 L287.68,425.40 L290.30,426.01 L292.95,426.62 L295.63,427.23 L298.33,427.85 L301.07,428.46 L303.84,429.08 L306.63,429.69 L309.46,430.31 L312.32,430.93 L315.21,431.55 L318.13,432.17 L321.09,432.79 L324.07,433.41 L327.09,434.03 L330.14,434.65 L333.23,435.27 L336.35,435.89 L339.50,436.51" stroke="#c8943a"/>
<path d="M65.81,479.96 L66.00,478.93 L66.20,477.92 L66.39,476.90 L66.59,475.89 L66.78,474.89 L66.98,473.89 L67.19,472.89 L67.39,471.89 L67.60,470.89 L67.81,469.90 L68.02,468.90 L68.23,467.90 L68.45,466.90 L68.67,465.90 L68.89,464.90 L69.11,463.89 L69.34,462.88 L69.57,461.86 L69.80,460.84 L70.03,459.81 L70.27,458.77 L70.50,457.72 L70.75,456.67 L70.99,455.60 L71.24,454.53 L71.48,453.44 L71.74,452.35 L71.99,451.24 L72.25,450.12 L72.51,448.98 L72.77,447.83 L73.04,446.67 L73.31,445.48 L73.58,444.29 L73.85,443.07 L74.13,441.84 L74.41,440.59 L74.69,439.32 L74.98,438.03 L75.27,436.71 L75.56,435.38 L75.86,434.01 L76.16,432.62 L76.46,431.19 L76.77,429.74 L77.08,428.24 L77.39,426.72 L77.71,425.15 L78.03,423.55 L78.35,421.90 L78.68,420.21 L79.01,418.48 L79.34,416.69 L79.68,414.86 L80.02,412.98 L80.37,411.04 L80.72,409.05 L81.07,407.01 L81.43,404.93 L81.79,402.84 L82.15,400.74 L82.52,398.65 L82.90,396.59 L83.27,394.58 L83.65,392.63 L84.04,390.74 L84.43,388.93 L84.82,387.18 L85.22,385.50 L85.62,383.88 L86.03,382.33 L86.44,380.84 L86.85,379.40 L87.27,378.03 L87.70,376.71 L88.13,375.45 L88.56,374.24 L89.00,373.08 L89.45,371.97 L89.89,370.91 L90.35,369.90 L90.81,368.93 L91.27,368.01 L91.74,367.13 L92.21,366.29 L92.69,365.50 L93.17,364.73 L93.66,364.01 L94.16,363.32 L94.66,362.67 L95.16,362.05 L95.68,361.45 L96.19,360.89 L96.71,360.35 L97.24,359.84 L97.78,359.36 L98.32,358.90 L98.86,358.46 L99.41,358.05 L99.97,357.66 L100.54,357.28 L101.11,356.93 L101.68,356.59 L102.26,356.27 L102.85,355.97 L103.45,355.68 L104.05,355.41 L104.66,355.15 L105.27,354.90 L105.90,354.66 L106.53,354.43 L107.16,354.22 L107.80,354.01 L108.45,353.82 L109.11,353.63 L109.77,353.46 L110.45,353.30 L111.12,353.15 L111.81,353.01 L112.50,352.88 L113.20,352.76 L113.91,352.65 L114.63,352.56 L115.35,352.47 L116.09,352.40 L116.83,352.33 L117.58,352.28 L118.33,352.24 L119.10,352.20 L119.87,352.18 L120.65,352.17 L121.44,352.17 L122.24,352.18 L123.05,352.20 L123.87,352.23 L124.69,352.28 L125.53,352.33 L126.37,352.39 L127.22,352.47 L128.09,352.55 L128.96,352.65 L129.84,352.75 L130.73,352.87 L131.63,353.00 L132.54,353.14 L133.46,353.28 L134.39,353.44 L135.33,353.61 L136.28,353.79 L137.25,353.98 L138.22,354.18 L139.20,354.39 L140.19,354.61 L141.20,354.84 L142.21,355.09 L143.24,355.34 L144.28,355.60 L145.33,355.87 L146.39,356.16 L147.46,356.45 L148.55,356.75 L149.64,357.07 L150.75,357.39 L151.87,357.72 L153.00,358.07 L154.15,358.42 L155.30,358.79 L156.47,359.16 L157.66,359.55 L158.85,359.94 L160.06,360.35 L161.28,360.76 L162.52,361.19 L163.77,361.62 L165.03,362.07 L166.31,362.52 L167.60,362.99 L168.90,363.46 L170.22,363.95 L171.55,364.45 L172.90,364.95 L174.27,365.47 L175.64,365.99 L177.04,366.53 L178.44,367.07 L179.87,367.63 L181.31,368.19 L182.76,368.77 L184.23,369.35 L185.72,369.94 L187.22,370.55 L188.74,371.16 L190.28,371.78 L191.83,372.42 L193.40,373.06 L194.99,373.71 L196.59,374.38 L198.22,375.05 L199.86,375.73 L201.51,376.41 L203.19,377.11 L204.88,377.81 L206.60,378.52 L208.33,379.23 L210.08,379.95 L211.85,380.67 L213.64,381.40 L215.45,382.13 L217.28,382.87 L219.13,383.60 L220.99,384.34 L222.88,385.09 L224.79,385.83 L226.73,386.57 L228.68,387.32 L230.65,388.06 L232.65,388.80 L234.66,389.54 L236.70,390.28 L238.77,391.02 L240.85,391.75 L242.96,392.48 L245.09,393.21 L247.24,393.93 L249.42,394.65 L251.62,395.36 L253.84,396.06 L256.09,396.76 L258.37,397.46 L260.67,398.14 L262.99,398.82 L265.34,399.48 L267.72,400.14 L270.12,400.79 L272.54,401.44 L275.00,402.08 L277.48,402.71 L279.99,403.34 L282.52,403.98 L285.09,404.61 L287.68,405.25 L290.30,405.89 L292.95,406.54 L295.63,407.20 L298.33,407.87 L301.07,408.55 L303.84,409.25 L306.63,409.96 L309.46,410.68 L312.32,411.43 L315.21,412.20 L318.13,412.99 L321.09,413.80 L324.07,414.64 L327.09,415.51 L330.14,416.41 L333.23,417.34 L336.35,418.30 L339.50,419.29" stroke="#5a8a56"/>
<path d="M65.81,466.46 L66.00,465.29 L66.20,464.09 L66.39,462.87 L66.59,461.64 L66.78,460.38 L66.98,459.10 L67.19,457.80 L67.39,456.49 L67.60,455.15 L67.81,453.80 L68.02,452.43 L68.23,451.04 L68.45,449.63 L68.67,448.21 L68.89,446.77 L69.11,445.31 L69.34,443.84 L69.57,442.35 L69.80,440.85 L70.03,439.33 L70.27,437.80 L70.50,436.26 L70.75,434.70 L70.99,433.12 L71.24,431.54 L71.48,429.94 L71.74,428.33 L71.99,426.71 L72.25,425.08 L72.51,423.43 L72.77,421.78 L73.04,420.11 L73.31,418.43 L73.58,416.74 L73.85,415.04 L74.13,413.33 L74.41,411.60 L74.69,409.86 L74.98,408.11 L75.27,406.34 L75.56,404.56 L75.86,402.78 L76.16,401.00 L76.46,399.23 L76.77,397.46 L77.08,395.70 L77.39,393.95 L77.71,392.22 L78.03,390.52 L78.35,388.84 L78.68,387.18 L79.01,385.56 L79.34,383.96 L79.68,382.38 L80.02,380.84 L80.37,379.32 L80.72,377.83 L81.07,376.37 L81.43,374.93 L81.79,373.52 L82.15,372.14 L82.52,370.79 L82.90,369.47 L83.27,368.17 L83.65,366.90 L84.04,365.66 L84.43,364.43 L84.82,363.23 L85.22,362.04 L85.62,360.87 L86.03,359.71 L86.44,358.57 L86.85,357.44 L87.27,356.32 L87.70,355.21 L88.13,354.11 L88.56,353.01 L89.00,351.91 L89.45,350.81 L89.89,349.71 L90.35,348.61 L90.81,347.51 L91.27,346.40 L91.74,345.28 L92.21,344.16 L92.69,343.03 L93.17,341.91 L93.66,340.79 L94.16,339.68 L94.66,338.58 L95.16,337.51 L95.68,336.46 L96.19,335.45 L96.71,334.46 L97.24,333.51 L97.78,332.60 L98.32,331.71 L98.86,330.86 L99.41,330.04 L99.97,329.25 L100.54,328.50 L101.11,327.77 L101.68,327.07 L102.26,326.40 L102.85,325.76 L103.45,325.15 L104.05,324.56 L104.66,324.01 L105.27,323.47 L105.90,322.97 L106.53,322.49 L107.16,322.03 L107.80,321.60 L108.45,321.20 L109.11,320.81 L109.77,320.45 L110.45,320.11 L111.12,319.79 L111.81,319.50 L112.50,319.22 L113.20,318.96 L113.91,318.73 L114.63,318.52 L115.35,318.32 L116.09,318.15 L116.83,318.00 L117.58,317.87 L118.33,317.75 L119.10,317.66 L119.87,317.58 L120.65,317.53 L121.44,317.49 L122.24,317.47 L123.05,317.47 L123.87,317.49 L124.69,317.53 L125.53,317.58 L126.37,317.65 L127.22,317.74 L128.09,317.85 L128.96,317.97 L129.84,318.11 L130.73,318.27 L131.63,318.45 L132.54,318.64 L133.46,318.84 L134.39,319.07 L135.33,319.31 L136.28,319.56 L137.25,319.83 L138.22,320.12 L139.20,320.42 L140.19,320.74 L141.20,321.07 L142.21,321.42 L143.24,321.78 L144.28,322.16 L145.33,322.55 L146.39,322.95 L147.46,323.37 L148.55,323.81 L149.64,324.26 L150.75,324.72 L151.87,325.20 L153.00,325.69 L154.15,326.19 L155.30,326.71 L156.47,327.24 L157.66,327.79 L158.85,328.35 L160.06,328.92 L161.28,329.50 L162.52,330.10 L163.77,330.71 L165.03,331.33 L166.31,331.96 L167.60,332.61 L168.90,333.27 L170.22,333.94 L171.55,334.62 L172.90,335.32 L174.27,336.02 L175.64,336.74 L177.04,337.47 L178.44,338.21 L179.87,338.96 L181.31,339.72 L182.76,340.49 L184.23,341.28 L185.72,342.07 L187.22,342.88 L188.74,343.69 L190.28,344.52 L191.83,345.35 L193.40,346.20 L194.99,347.06 L196.59,347.92 L198.22,348.79 L199.86,349.68 L201.51,350.57 L203.19,351.46 L204.88,352.37 L206.60,353.28 L208.33,354.19 L210.08,355.11 L211.85,356.03 L213.64,356.96 L215.45,357.89 L217.28,358.83 L219.13,359.76 L220.99,360.70 L222.88,361.64 L224.79,362.57 L226.73,363.51 L228.68,364.45 L230.65,365.38 L232.65,366.32 L234.66,367.25 L236.70,368.17 L238.77,369.10 L240.85,370.01 L242.96,370.93 L245.09,371.84 L247.24,372.74 L249.42,373.64 L251.62,374.52 L253.84,375.41 L256.09,376.28 L258.37,377.14 L260.67,377.99 L262.99,378.84 L265.34,379.67 L267.72,380.49 L270.12,381.30 L272.54,382.11 L275.00,382.90 L277.48,383.69 L279.99,384.47 L282.52,385.25 L285.09,386.03 L287.68,386.81 L290.30,387.60 L292.95,388.38 L295.63,389.18 L298.33,389.97 L301.07,390.78 L303.84,391.60 L306.63,392.43 L309.46,393.28 L312.32,394.14 L315.21,395.01 L318.13,395.91 L321.09,396.82 L324.07,397.76 L327.09,398.72 L330.14,399.71 L333.23,400.72 L336.35,401.77 L339.50,402.84" stroke="#1b4a74"/>
</g>
<text x="48.00" y="534.8" text-anchor="middle" font-size="12" fill="#262626">0</text>
<text x="120.75" y="534.8" text-anchor="middle" font-size="12" fill="#262626">0.5</text>
<text x="193.50" y="534.8" text-anchor="middle" font-size="12" fill="#262626">1</text>
<text x="266.25" y="534.8" text-anchor="middle" font-size="12" fill="#262626">1.5</text>
<text x="339.00" y="534.8" text-anchor="middle" font-size="12" fill="#262626">2</text>
<text x="44.0" y="523.40" text-anchor="end" font-size="12" fill="#262626">0</text>
<text x="44.0" y="491.20" text-anchor="end" font-size="12" fill="#262626">2</text>
<text x="44.0" y="459.00" text-anchor="end" font-size="12" fill="#262626">4</text>
<text x="44.0" y="426.80" text-anchor="end" font-size="12" fill="#262626">6</text>
<text x="44.0" y="394.60" text-anchor="end" font-size="12" fill="#262626">8</text>
<text x="44.0" y="362.40" text-anchor="end" font-size="12" fill="#262626">10</text>
<text x="44.0" y="330.20" text-anchor="end" font-size="12" fill="#262626">12</text>
<text x="44.0" y="298.00" text-anchor="end" font-size="12" fill="#262626">14</text>
<rect x="269.5" y="298.5" width="64.8" height="74.5" fill="#fff" stroke="#333" stroke-width="0.9"/>
<path d="M272.10,308.30h20.6" stroke="#ffb3b6" stroke-width="1.1" fill="none"/>
<text font-size="12" fill="#262626" y="310.65"><tspan x="294.70">t</tspan><tspan x="298.70" y="315.65" font-size="9.3">c</tspan><tspan x="303.60" y="310.65">/</tspan><tspan x="307.10">t</tspan><tspan x="311.00" y="315.65" font-size="9.3">f</tspan><tspan x="316.50" y="310.65">=</tspan><tspan x="325.60">2</tspan></text>
<path d="M272.10,326.53h20.6" stroke="#c8943a" stroke-width="1.1" fill="none"/>
<text font-size="12" fill="#262626" y="328.88"><tspan x="294.70">t</tspan><tspan x="298.70" y="333.88" font-size="9.3">c</tspan><tspan x="303.60" y="328.88">/</tspan><tspan x="307.10">t</tspan><tspan x="311.00" y="333.88" font-size="9.3">f</tspan><tspan x="316.50" y="328.88">=</tspan><tspan x="325.60">3</tspan></text>
<path d="M272.10,344.76h20.6" stroke="#5a8a56" stroke-width="1.1" fill="none"/>
<text font-size="12" fill="#262626" y="347.11"><tspan x="294.70">t</tspan><tspan x="298.70" y="352.11" font-size="9.3">c</tspan><tspan x="303.60" y="347.11">/</tspan><tspan x="307.10">t</tspan><tspan x="311.00" y="352.11" font-size="9.3">f</tspan><tspan x="316.50" y="347.11">=</tspan><tspan x="325.60">4</tspan></text>
<path d="M272.10,362.99h20.6" stroke="#1b4a74" stroke-width="1.1" fill="none"/>
<text font-size="12" fill="#262626" y="365.34"><tspan x="294.70">t</tspan><tspan x="298.70" y="370.34" font-size="9.3">c</tspan><tspan x="303.60" y="365.34">/</tspan><tspan x="307.10">t</tspan><tspan x="311.00" y="370.34" font-size="9.3">f</tspan><tspan x="316.50" y="365.34">=</tspan><tspan x="325.60">5</tspan></text>
<text x="193.5" y="549.3" text-anchor="middle" font-size="13.35" fill="#262626">Displacement [mm]</text>
<text transform="translate(25.2,405.8) rotate(-90)" text-anchor="middle" font-size="13.5" fill="#262626">Strain energy ratio [-]</text>
<text x="0.3" y="297.4" font-size="14.5" font-weight="bold" fill="#000" style="stroke:#000">(b)</text>
</svg>
</body></html>
